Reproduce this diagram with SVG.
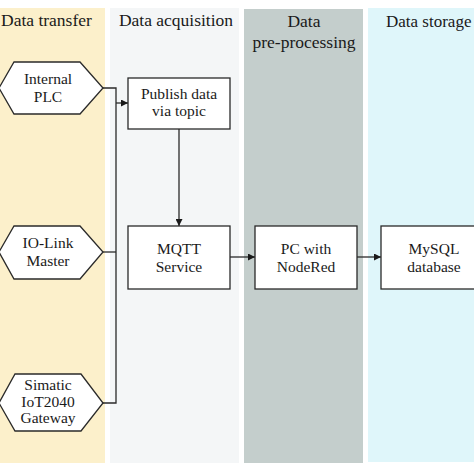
<svg xmlns="http://www.w3.org/2000/svg" width="474" height="474" viewBox="0 0 474 474">
<style>
.lane-title{font-family:"Liberation Serif","Times New Roman",serif;font-size:17.5px;fill:#1a1a1a}
.t{font-family:"Liberation Serif","Times New Roman",serif;font-size:15.5px;fill:#1a1a1a;text-anchor:middle}
.node{fill:#ffffff;stroke:#2a2a2a;stroke-width:1.3}
.conn{fill:none;stroke:#2a2a2a;stroke-width:1.3}
</style>
<defs>
<marker id="arr" viewBox="0 0 10 10" refX="10" refY="5" markerWidth="7" markerHeight="7" markerUnits="userSpaceOnUse" orient="auto">
<path d="M0,0 L10,5 L0,10 z" fill="#1a1a1a"/>
</marker>
</defs>
<rect width="474" height="474" fill="#ffffff"/>
<g id="lanes">
<rect x="0" y="8" width="105" height="455" fill="#fcf0cb"/>
<rect x="110" y="8" width="129" height="455" fill="#f4f6f7"/>
<rect x="244" y="9" width="119" height="454" fill="#c4cecc"/>
<rect x="368" y="8" width="106" height="454" fill="#dff6fa"/>
<text class="lane-title" x="1" y="26">Data transfer</text>
<text class="lane-title" x="176" y="26" text-anchor="middle">Data acquisition</text>
<text class="lane-title" x="304" y="27" text-anchor="middle">Data</text>
<text class="lane-title" x="304" y="48" text-anchor="middle">pre-processing</text>
<text class="lane-title" x="386" y="27" style="font-size:17px">Data storage</text>
</g>
<g id="connectors">
<path class="conn" d="M103,88 H116 V403 H103"/>
<path class="conn" d="M103,252 H116"/>
<path class="conn" d="M116,103 H128" marker-end="url(#arr)"/>
<path class="conn" d="M179,129 V226" marker-end="url(#arr)"/>
<path class="conn" d="M230,257 H255" marker-end="url(#arr)"/>
<path class="conn" d="M357,257 H381" marker-end="url(#arr)"/>
</g>
<g id="internal-plc">
<polygon class="node" points="-1,88 14,62 80,62 103,88 80,114 14,114"/>
<text class="t" x="48" y="84">Internal</text>
<text class="t" x="48" y="102">PLC</text>
</g>
<g id="io-link-master">
<polygon class="node" points="-1,252 14,226 80,226 103,252 80,279 14,279"/>
<text class="t" x="48" y="248">IO-Link</text>
<text class="t" x="48" y="266">Master</text>
</g>
<g id="simatic-gateway">
<polygon class="node" points="-1,403 15,374 81,374 103,403 81,431 15,431"/>
<text class="t" x="48" y="390">Simatic</text>
<text class="t" x="48" y="407">IoT2040</text>
<text class="t" x="48" y="423">Gateway</text>
</g>
<g id="publish">
<rect class="node" x="128" y="78" width="102" height="51"/>
<text class="t" x="179" y="99">Publish data</text>
<text class="t" x="179" y="116">via topic</text>
</g>
<g id="mqtt">
<rect class="node" x="128" y="226" width="102" height="63"/>
<text class="t" x="179" y="254">MQTT</text>
<text class="t" x="179" y="272">Service</text>
</g>
<g id="pc-nodered">
<rect class="node" x="255" y="226" width="102" height="63"/>
<text class="t" x="306" y="254">PC with</text>
<text class="t" x="306" y="272">NodeRed</text>
</g>
<g id="mysql">
<rect class="node" x="381" y="226" width="106" height="63"/>
<text class="t" x="434" y="254">MySQL</text>
<text class="t" x="434" y="272">database</text>
</g>
</svg>
